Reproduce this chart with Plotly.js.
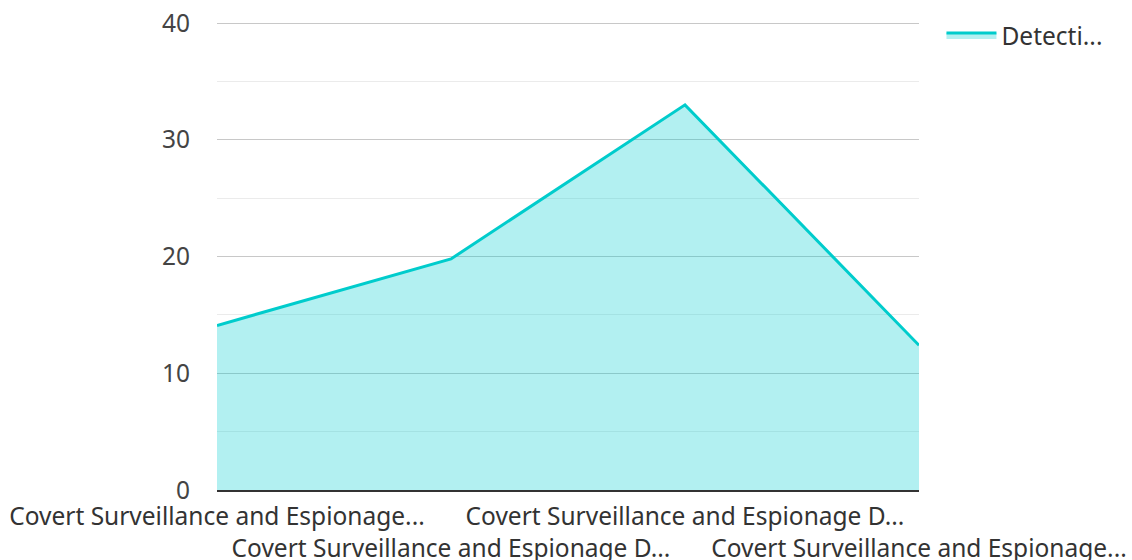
<!DOCTYPE html>
<html>
<head>
<meta charset="utf-8">
<script src="https://cdn.plot.ly/plotly-3.0.1.min.js"></script>
<style>html,body{margin:0;padding:0;background:#fff;}#chart{width:1132px;height:560px;}</style>
</head>
<body>
<div id="chart"></div>
<script>
const categories = [
  "Covert Surveillance and Espionage...",
  "Covert Surveillance and Espionage D...",
  "Covert Surveillance and Espionage D...",
  "Covert Surveillance and Espionage..."
];
const seriesName = "Detecti...";
const values = [14.1, 19.8, 33, 12.4];
const yTicks = [0, 10, 20, 30, 40];

const xIdx = categories.map((c, i) => i);
const tickText = categories.map((c, i) => (i % 2 === 1 ? "<br>" + c : c));

const trace = {
  type: "scatter",
  mode: "lines",
  x: xIdx,
  y: values,
  name: seriesName,
  fill: "tozeroy",
  fillcolor: "rgba(0,206,209,0.3)",
  line: { color: "#00cccc", width: 3 },
  showlegend: true
};

const layout = {
  width: 1132,
  height: 560,
  margin: { l: 217, r: 213, t: 22, b: 70 },
  paper_bgcolor: "#ffffff",
  plot_bgcolor: "#ffffff",
  font: { family: "Noto Sans, Open Sans, sans-serif", size: 24.5, color: "#444" },
  showlegend: true,
  legend: {
    x: 1.032, xanchor: "left", y: 1.02, yanchor: "top",
    itemwidth: 50,
    font: { size: 24.5, color: "#333" },
    bgcolor: "rgba(0,0,0,0)"
  },
  xaxis: {
    range: [0, 3],
    tickmode: "array",
    tickvals: xIdx,
    ticktext: tickText,
    tickangle: 0,
    showgrid: false,
    zeroline: false,
    showline: true,
    linecolor: "#333",
    linewidth: 2,
    ticks: "",
    ticklabelstandoff: 4,
    tickfont: { size: 24.5, color: "#333" },
    automargin: false
  },
  yaxis: {
    range: [0, 40.1],
    tickmode: "array",
    tickvals: yTicks,
    ticktext: yTicks.map(String),
    showgrid: true,
    gridcolor: "#c8c8c8",
    gridwidth: 1,
    minor: { dtick: 5, showgrid: true, gridcolor: "#ebebeb", gridwidth: 1 },
    zeroline: false,
    ticks: "",
    ticklabelstandoff: 26,
    tickfont: { size: 24.5, color: "#444" },
    automargin: false
  }
};

Plotly.newPlot("chart", [trace], layout, { displayModeBar: false, staticPlot: true });
</script>
</body>
</html>
